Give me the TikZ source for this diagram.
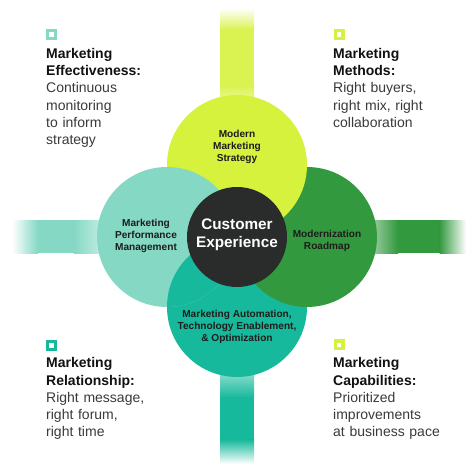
\documentclass[tikz,border=0pt]{standalone}
\usepackage{fontspec}
\setmainfont{Liberation Sans}
\definecolor{limec}{HTML}{D6F23C}
\definecolor{mintc}{HTML}{84D8C4}
\definecolor{grnc}{HTML}{33993F}
\definecolor{tealc}{HTML}{17B99C}
\definecolor{darkc}{HTML}{2A2B2B}
\definecolor{titlec}{HTML}{111111}
\definecolor{bodyc}{HTML}{3A3A3A}
\definecolor{lblc}{HTML}{1C1C1C}
\begin{document}
\begin{tikzpicture}[x=1pt,y=1pt,
  bigcirc/.style={circle,minimum size=140pt,inner sep=0pt,draw=none},
  lbl/.style={align=center,text=lblc,font=\bfseries\fontsize{10.1}{12.2}\selectfont,inner sep=0pt},
  bulletbox/.style={minimum size=11pt,inner sep=0pt,draw=none},
  bulletin/.style={minimum size=4.5pt,inner sep=0pt,fill=white,draw=none},
  blocktext/.style={anchor=base west,inner sep=0pt,text width=160pt,align=left,text=bodyc,font=\fontsize{14}{17.2}\selectfont}
]
\fill[white] (0,0) rectangle (474,474);
\useasboundingbox (0,0) rectangle (474,474);

% bars
% top
\shade[top color=white,bottom color=limec!90] (220,444) rectangle (254,466);
\fill[limec!90] (220,388) rectangle (254,444.5);
\shade[top color=limec!90,bottom color=limec!45] (220,370) rectangle (254,388.5);
% bottom
\shade[top color=tealc!45,bottom color=tealc] (220,76) rectangle (254,104);
\fill[tealc] (220,34) rectangle (254,76.5);
\shade[top color=tealc,bottom color=white] (220,10) rectangle (254,34.5);
% left
\shade[left color=white,right color=mintc] (12,220.5) rectangle (38,253.5);
\fill[mintc] (37.5,220.5) rectangle (74,253.5);
\shade[left color=mintc,right color=mintc!45] (73.5,220.5) rectangle (104,253.5);
% right
\shade[left color=grnc!45,right color=grnc] (370,220.5) rectangle (398,253.5);
\fill[grnc] (397.5,220.5) rectangle (440,253.5);
\shade[left color=grnc,right color=white] (439.5,220.5) rectangle (466,253.5);

% circles (pinwheel overlap)
\node[bigcirc,fill=tealc] (cbot) at (237,167) {};
\node[bigcirc,fill=grnc] (cright) at (307,237) {};
\node[bigcirc,fill=limec] (ctop) at (237,309) {};
\node[bigcirc,fill=mintc] (cleft) at (167,237) {};
\begin{scope}
  \clip (cleft.center) circle (70);
  \fill[tealc] (cbot.center) circle (70);
\end{scope}
\node[circle,minimum size=100pt,inner sep=0pt,fill=darkc] (ccenter) at (237,237) {};

% circle labels
\node[lbl] (ltop) at (237,327) {Modern\\Marketing\\Strategy};
\node[lbl] (lleft) at (146,238) {Marketing\\Performance\\Management};
\node[lbl] (lright) at (327,233.5) {Modernization\\Roadmap};
\node[lbl] (lbot) at (237,147) {Marketing Automation,\\Technology Enablement,\\\& Optimization};
\node[align=center,text=white,inner sep=0pt,font=\bfseries\fontsize{15.3}{18}\selectfont] (lcenter) at (237,239) {Customer\\Experience};

% corner blocks
\node[bulletbox,fill=mintc] (b1) at (51.5,439.5) {};
\node[bulletin] (b1i) at (b1) {};
\node[blocktext] (t1) at (46,415.5) {\textcolor{titlec}{\bfseries Marketing}\\\textcolor{titlec}{\bfseries Effectiveness:}\\Continuous\\monitoring\\to inform\\strategy};

\node[bulletbox,fill=limec] (b2) at (339,439.5) {};
\node[bulletin] (b2i) at (b2) {};
\node[blocktext] (t2) at (333,415.5) {\textcolor{titlec}{\bfseries Marketing}\\\textcolor{titlec}{\bfseries Methods:}\\Right buyers,\\right mix, right\\collaboration};

\node[bulletbox,fill=tealc] (b3) at (51.5,128.5) {};
\node[bulletin] (b3i) at (b3) {};
\node[blocktext] (t3) at (46,106) {\textcolor{titlec}{\bfseries Marketing}\\\textcolor{titlec}{\bfseries Relationship:}\\Right message,\\right forum,\\right time};

\node[bulletbox,fill=limec] (b4) at (339,129) {};
\node[bulletin] (b4i) at (b4) {};
\node[blocktext] (t4) at (333,106) {\textcolor{titlec}{\bfseries Marketing}\\\textcolor{titlec}{\bfseries Capabilities:}\\Prioritized\\improvements\\at business pace};
\end{tikzpicture}
\end{document}
